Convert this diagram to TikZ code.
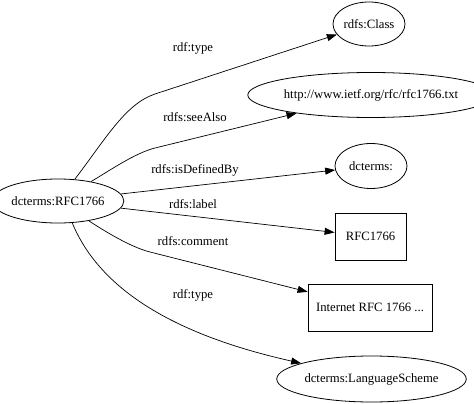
\documentclass[tikz,border=0pt]{standalone}
\usepackage{fontspec}
\setmainfont{Liberation Serif}
\usetikzlibrary{arrows.meta,shapes.geometric}
\begin{document}
\begin{tikzpicture}[x=1pt,y=-1pt,
  every node/.style={font=\fontsize{12.7}{15}\selectfont, inner sep=0pt},
  ell/.style={draw, ellipse, line width=0.8pt},
  box/.style={draw, rectangle, line width=0.8pt},
  arr/.style={draw, line width=0.7pt, -{Triangle[length=10pt,width=7pt]}},
  lbl/.style={}]
\useasboundingbox (0,0) rectangle (474,404);
\node[ell, minimum width=114pt, minimum height=44pt] (rfc) at (58,201) {dcterms:RFC1766};
\node[ell, minimum width=72pt, minimum height=44pt] (cls) at (369,24) {rdfs:Class};
\node[ell, minimum width=198pt, minimum height=45pt] (http) at (371,95) {http://www.ietf.org/rfc/rfc1766.txt};
\node[ell, minimum width=72pt, minimum height=45pt] (dct) at (371,166) {dcterms:};
\node[box, minimum width=71pt, minimum height=47pt] (lab) at (370.5,236.5) {RFC1766};
\node[box, minimum width=124pt, minimum height=47pt] (inet) at (370,307.5) {Internet RFC 1766 ...};
\node[ell, minimum width=157pt, minimum height=46pt] (ls) at (371.5,379) {dcterms:LanguageScheme};

\draw[arr] (rfc) .. controls (105,140) and (125,104) .. (155,94) -- (cls);
\draw[arr] (rfc) .. controls (109,171) and (135,153) .. (155,148) -- (http);
\draw[arr] (rfc) -- (dct);
\draw[arr] (rfc) -- (lab);
\draw[arr] (rfc) .. controls (103,230) and (130,247) .. (150,252) -- (inet);
\draw[arr] (rfc.-57) .. controls (100,290) and (175,335) .. (ls);

\node[lbl] (l1) at (193,48) {rdf:type};
\node[lbl] (l2) at (195,117) {rdfs:seeAlso};
\node[lbl] (l3) at (195,170) {rdfs:isDefinedBy};
\node[lbl] (l4) at (193,204) {rdfs:label};
\node[lbl] (l5) at (193,241) {rdfs:comment};
\node[lbl] (l6) at (193,295) {rdf:type};
\end{tikzpicture}
\end{document}
